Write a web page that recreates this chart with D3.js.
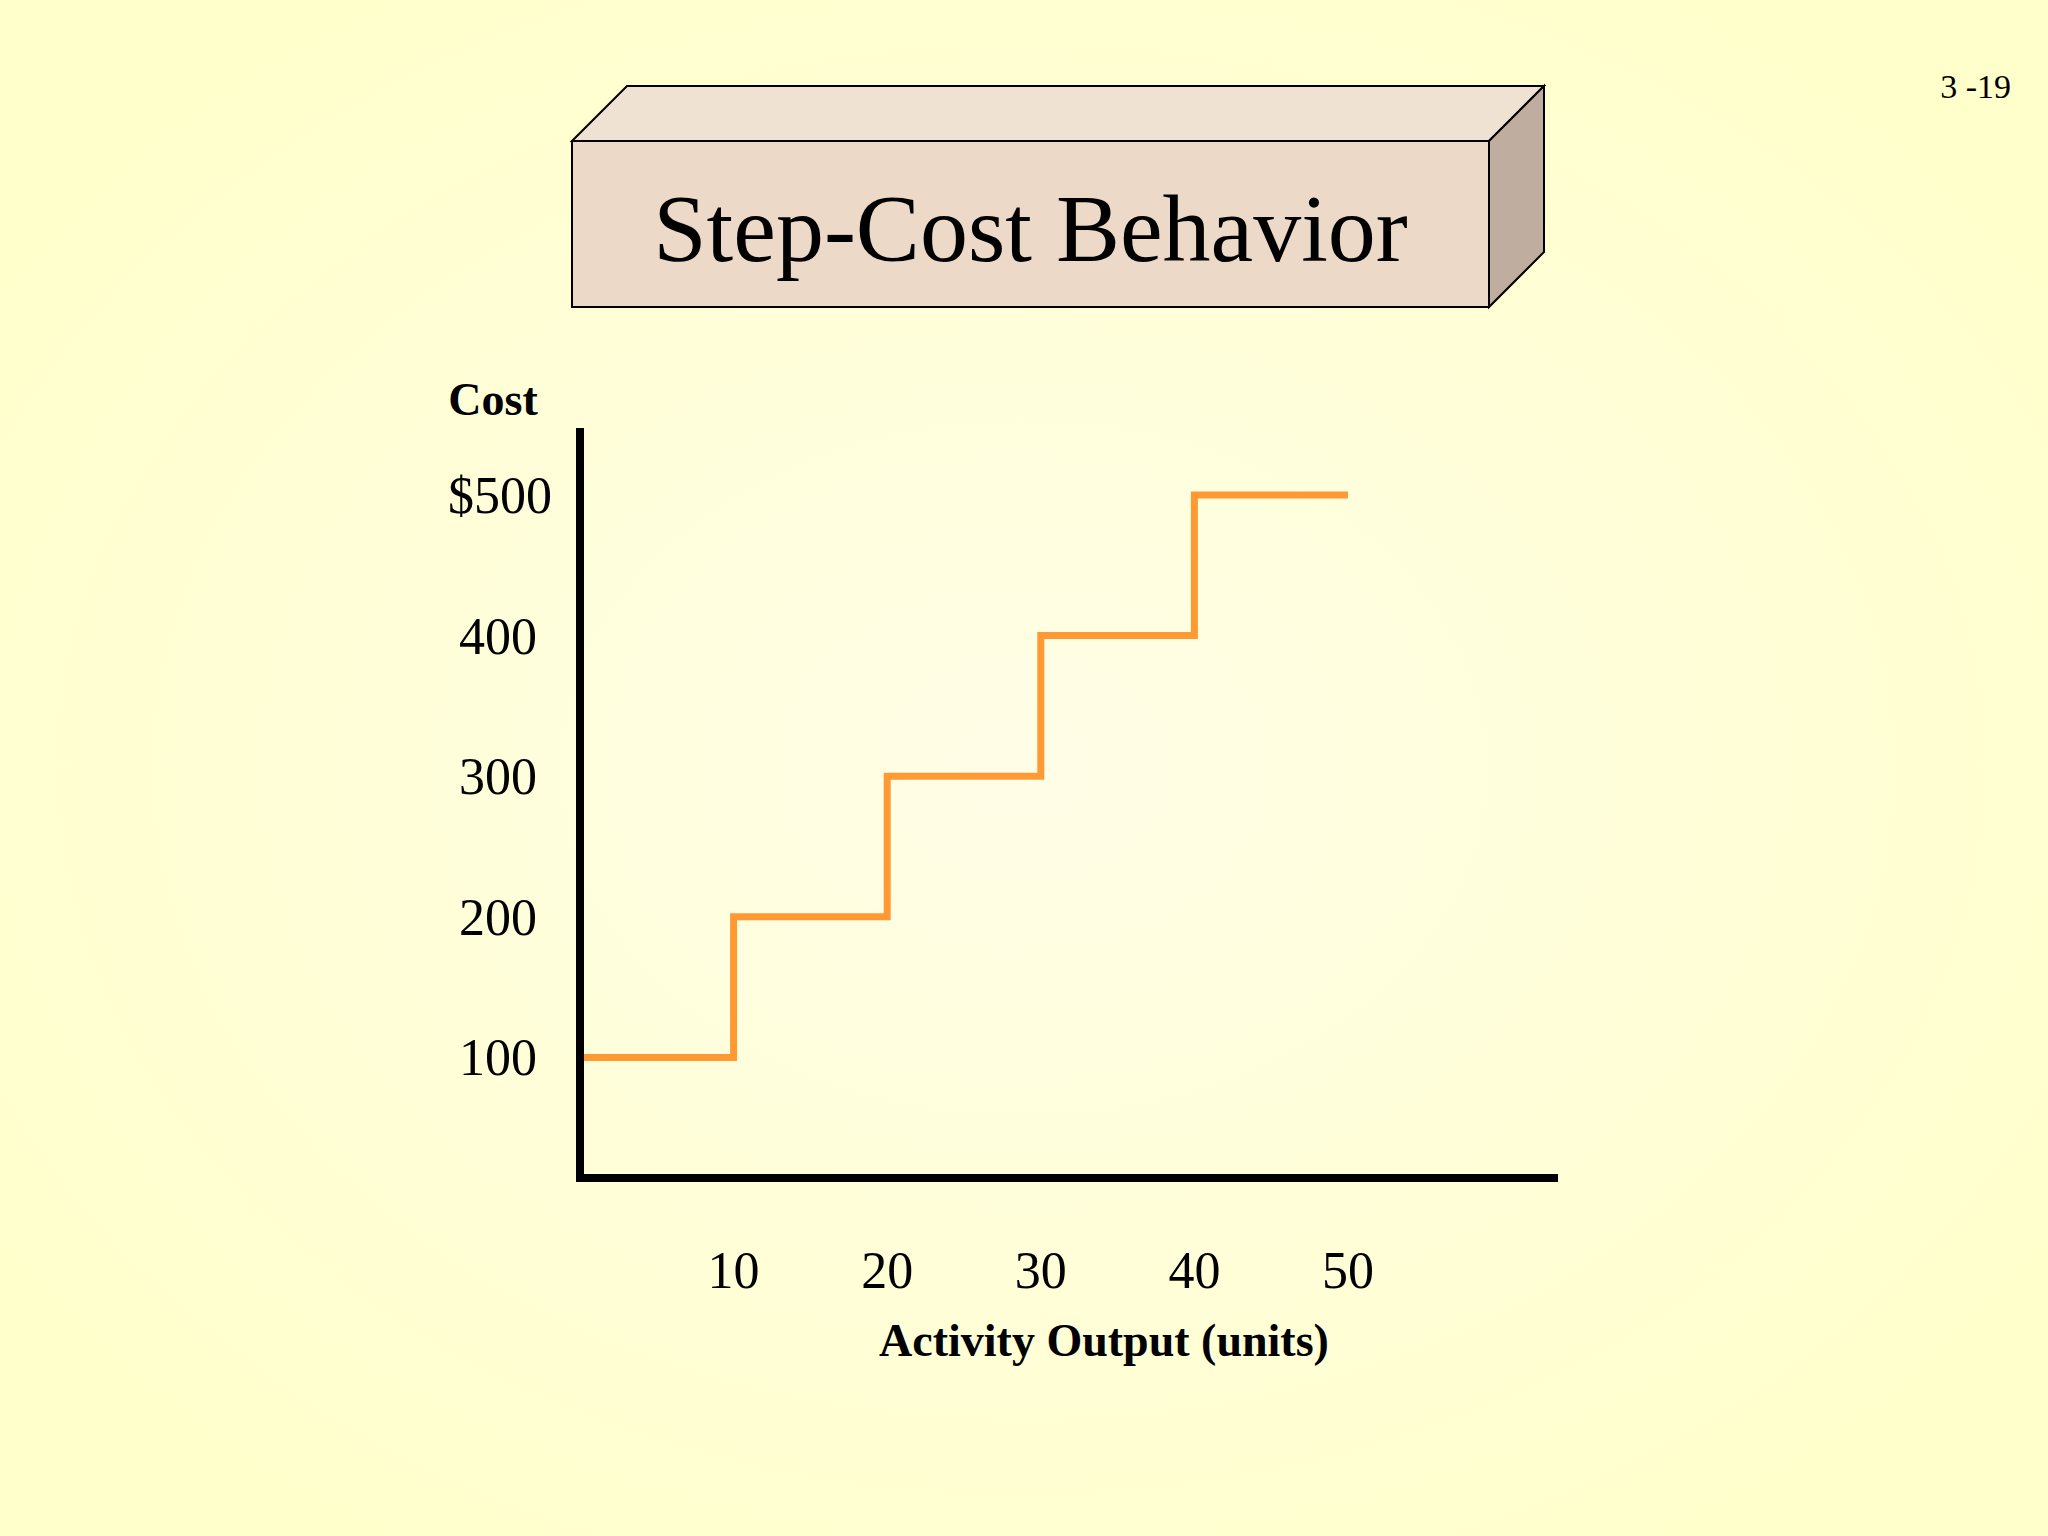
<!DOCTYPE html>
<html><head><meta charset="utf-8">
<script src="https://cdn.jsdelivr.net/npm/d3@7"></script>
<style>html,body{margin:0;padding:0;background:#ffffcc;}</style>
</head><body>
<script>
const xTicks = [10, 20, 30, 40, 50];
const yTicks = [100, 200, 300, 400, 500];
const yTickLabels = ["100", "200", "300", "400", "$500"];
const stepX = [0, 10, 20, 30, 40, 50];
const stepCost = [100, 200, 300, 400, 500, 500];

const W = 2048, H = 1536;
const svg = d3.select("body").append("svg").attr("width", W).attr("height", H);
const defs = svg.append("defs");
const g = defs.append("radialGradient").attr("id", "bg").attr("cx", "50%").attr("cy", "50%").attr("r", "60%");
g.append("stop").attr("offset", "0%").attr("stop-color", "#fffde6");
g.append("stop").attr("offset", "100%").attr("stop-color", "#ffffcc");
svg.append("rect").attr("width", W).attr("height", H).attr("fill", "url(#bg)");

const font = "'Liberation Serif','Times New Roman',serif";
const x = d3.scaleLinear().domain([0, 50]).range([580, 1348]);
const y = d3.scaleLinear().domain([0, 500]).range([1198, 495]);

// title box
const bx0 = 572, bx1 = 1489, by0 = 141, by1 = 307, d = 55;
svg.append("polygon").attr("points", `${bx0},${by0} ${bx0+d},${by0-d} ${bx1+d},${by0-d} ${bx1},${by0}`)
  .attr("fill", "#f0e2d2").attr("stroke", "#000").attr("stroke-width", 2);
svg.append("polygon").attr("points", `${bx1},${by0} ${bx1+d},${by0-d} ${bx1+d},${by1-d} ${bx1},${by1}`)
  .attr("fill", "#bfae9f").attr("stroke", "#000").attr("stroke-width", 2);
svg.append("rect").attr("x", bx0).attr("y", by0).attr("width", bx1-bx0).attr("height", by1-by0)
  .attr("fill", "#ecd9c8").attr("stroke", "#000").attr("stroke-width", 2);
svg.append("text").attr("x", (bx0+bx1)/2).attr("y", 261).attr("text-anchor", "middle")
  .attr("font-family", font).attr("font-size", 96).text("Step-Cost Behavior");

svg.append("text").attr("x", 2011).attr("y", 98).attr("text-anchor", "end")
  .attr("font-family", font).attr("font-size", 34).text("3 -19");

// step line
const line = d3.line().x((dd, i) => x(stepX[i])).y(dd => y(dd)).curve(d3.curveStepAfter);
svg.append("path").attr("d", line(stepCost)).attr("fill", "none")
  .attr("stroke", "#ff9933").attr("stroke-width", 7);

// axes
svg.append("line").attr("x1", 580).attr("x2", 580).attr("y1", 428).attr("y2", 1182).attr("stroke", "#000").attr("stroke-width", 8);
svg.append("line").attr("x1", 576).attr("x2", 1558).attr("y1", 1178).attr("y2", 1178).attr("stroke", "#000").attr("stroke-width", 8);

svg.selectAll(".yl").data(yTicks).enter().append("text")
  .attr("x", (dd, i) => i === 4 ? 552 : 537).attr("y", dd => y(dd) + 18).attr("text-anchor", "end")
  .attr("font-family", font).attr("font-size", 52).text((dd, i) => yTickLabels[i]);
svg.selectAll(".xl").data(xTicks).enter().append("text")
  .attr("x", dd => x(dd)).attr("y", 1288).attr("text-anchor", "middle")
  .attr("font-family", font).attr("font-size", 52).text(dd => dd);

svg.append("text").attr("x", 493).attr("y", 415).attr("text-anchor", "middle")
  .attr("font-family", font).attr("font-weight", "bold").attr("font-size", 46).text("Cost");
svg.append("text").attr("x", 1104).attr("y", 1356).attr("text-anchor", "middle")
  .attr("font-family", font).attr("font-weight", "bold").attr("font-size", 46).text("Activity Output (units)");
</script>
</body></html>
